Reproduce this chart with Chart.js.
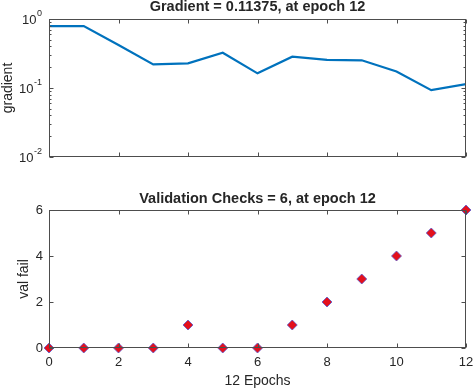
<!DOCTYPE html>
<html>
<head>
<meta charset="utf-8">
<script src="https://cdn.jsdelivr.net/npm/chart.js@4.4.1/dist/chart.umd.min.js"></script>
<style>
  body { margin: 0; background: #fff; }
  #top, #bot { position: absolute; left: 0; }
  #top { top: 0; }
  #bot { top: 185px; }
</style>
</head>
<body>
<canvas id="top" width="474" height="185"></canvas>
<canvas id="bot" width="474" height="205"></canvas>
<script>
// data
var epochs = [0, 1, 2, 3, 4, 5, 6, 7, 8, 9, 10, 11, 12];
var gradient = [0.79, 0.79, 0.42, 0.22, 0.228, 0.325, 0.163, 0.284, 0.255, 0.252, 0.173, 0.093, 0.11375];
var valFail = [0, 0, 0, 0, 1, 0, 0, 1, 2, 3, 4, 5, 6];
var gradTicks = [0.01, 0.1, 1];
var failTicks = [0, 2, 4, 6];
var epochTicks = [0, 2, 4, 6, 8, 10, 12];

var axisColor = '#4d4d4d';
var textColor = '#262626';
var fontFam = '"Liberation Sans", Arial, Helvetica, sans-serif';

function pairs(ys) {
  return epochs.map(function (e, i) { return { x: e, y: ys[i] }; });
}

// matlab style box with inward ticks, title centred on the axes
var frame = {
  id: 'frame',
  afterDraw: function (chart) {
    var ctx = chart.ctx, a = chart.chartArea;
    var opts = chart.options.plugins.frame;
    var xs = chart.scales.x, ys = chart.scales.y;
    var L = Math.round(a.left) + 0.5, R = Math.round(a.right) - 0.5;
    var T = Math.round(a.top) + 0.5, B = Math.round(a.bottom) - 0.5;
    ctx.save();
    ctx.strokeStyle = axisColor;
    ctx.lineWidth = 1;
    ctx.strokeRect(L, T, R - L, B - T);
    ctx.beginPath();
    epochTicks.forEach(function (v) {
      var px = Math.round(xs.getPixelForValue(v)) + 0.5;
      ctx.moveTo(px, B); ctx.lineTo(px, B - 4);
      ctx.moveTo(px, T); ctx.lineTo(px, T + 4);
    });
    opts.yTicks.forEach(function (v) {
      var py = Math.round(ys.getPixelForValue(v)) + 0.5;
      ctx.moveTo(L, py); ctx.lineTo(L + 4, py);
      ctx.moveTo(R, py); ctx.lineTo(R - 4, py);
    });
    if (opts.logMinor) {
      [0.01, 0.1].forEach(function (d) {
        for (var k = 2; k <= 9; k++) {
          var py = Math.round(ys.getPixelForValue(d * k)) + 0.5;
          ctx.moveTo(L, py); ctx.lineTo(L + 2, py);
          ctx.moveTo(R, py); ctx.lineTo(R - 2, py);
        }
      });
    }
    ctx.stroke();

    ctx.fillStyle = textColor;
    ctx.textBaseline = 'middle';
    // 10^n labels for the log axis
    if (opts.logMinor) {
      opts.yTicks.forEach(function (v) {
        var py = ys.getPixelForValue(v);
        var ex = String(Math.round(Math.log10(v)));
        ctx.font = '9px ' + fontFam;
        ctx.textAlign = 'right';
        var ew = ctx.measureText(ex).width;
        var right = 42;
        ctx.fillText(ex, right, py - 5);
        ctx.font = '13px ' + fontFam;
        ctx.fillText('10', right - ew - 0.5, py + 1);
      });
    }
    ctx.font = 'bold 14.5px ' + fontFam;
    ctx.textAlign = 'center';
    ctx.fillText(opts.title, (a.left + a.right) / 2, opts.titleY);
    ctx.restore();
  }
};

var topChart = new Chart(document.getElementById('top'), {
  type: 'line',
  data: {
    datasets: [{
      data: pairs(gradient),
      borderColor: '#0072BD',
      borderWidth: 2.2,
      pointRadius: 0,
      tension: 0,
      fill: false
    }]
  },
  options: {
    responsive: false,
    animation: false,
    layout: { padding: { left: 0, right: 8, top: 19, bottom: 0 } },
    plugins: {
      legend: { display: false },
      tooltip: { enabled: false },
      frame: { yTicks: gradTicks, logMinor: true, title: 'Gradient = 0.11375, at epoch 12', titleY: 7 }
    },
    scales: {
      x: {
        type: 'linear', min: 0, max: 12,
        grid: { display: false }, border: { display: false },
        ticks: { display: false, stepSize: 2 },
        afterFit: function (s) { s.height = 28; s.paddingLeft = 0; s.paddingRight = 0; }
      },
      y: {
        type: 'logarithmic', min: 0.01, max: 1,
        grid: { display: false }, border: { display: false },
        ticks: { display: false },
        afterBuildTicks: function (s) { s.ticks = gradTicks.map(function (v) { return { value: v }; }); },
        title: {
          display: true, text: 'gradient', color: textColor,
          font: { family: fontFam, size: 14 }, padding: { top: 0, bottom: 0 }
        },
        afterFit: function (s) { s.width = 49; s.paddingTop = 0; s.paddingBottom = 0; }
      }
    }
  },
  plugins: [frame]
});

var botChart = new Chart(document.getElementById('bot'), {
  type: 'scatter',
  data: {
    datasets: [{
      data: pairs(valFail),
      showLine: false,
      pointStyle: 'rectRot',
      pointRadius: 5,
      backgroundColor: '#e3101c',
      borderColor: '#5a5ad0',
      borderWidth: 0.8,
      clip: false
    }]
  },
  options: {
    responsive: false,
    animation: false,
    layout: { padding: { left: 0, right: 8, top: 25, bottom: 0 } },
    plugins: {
      legend: { display: false },
      tooltip: { enabled: false },
      frame: { yTicks: failTicks, logMinor: false, title: 'Validation Checks = 6, at epoch 12', titleY: 14 }
    },
    scales: {
      x: {
        type: 'linear', min: 0, max: 12,
        grid: { display: false, drawTicks: false }, border: { display: false },
        ticks: { stepSize: 2, color: textColor, font: { family: fontFam, size: 13 }, padding: 7, maxRotation: 0 },
        title: {
          display: true, text: '12 Epochs', color: textColor,
          font: { family: fontFam, size: 14 }, padding: { top: 0, bottom: 0 }
        },
        afterFit: function (s) { s.height = 42; s.paddingLeft = 0; s.paddingRight = 0; }
      },
      y: {
        type: 'linear', min: 0, max: 6,
        grid: { display: false, drawTicks: false }, border: { display: false },
        ticks: { stepSize: 2, color: textColor, font: { family: fontFam, size: 13 }, padding: 6 },
        title: {
          display: true, text: 'val fail', color: textColor,
          font: { family: fontFam, size: 14 }, padding: { top: 15.6, bottom: 0 }
        },
        afterFit: function (s) { s.width = 49; s.paddingTop = 0; s.paddingBottom = 0; }
      }
    }
  },
  plugins: [frame]
});
</script>
</body>
</html>
